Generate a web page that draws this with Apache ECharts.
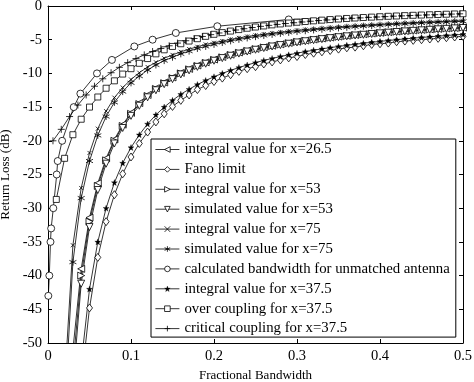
<!DOCTYPE html>
<html><head><meta charset="utf-8">
<script src="https://cdn.jsdelivr.net/npm/echarts@6/dist/echarts.min.js"></script>
<style>html,body{margin:0;padding:0;background:#fff}#c{width:474px;height:382px}</style>
</head><body><div id="c"></div>
<script>
// Fractional bandwidth grid (x) used by most curves
const bw = [0.01,0.02,0.03,0.04,0.05,0.06,0.07,0.08,0.09,0.10,0.11,0.12,0.13,0.14,0.15,0.16,0.17,0.18,0.19,0.20,0.21,0.22,0.23,0.24,0.25,0.26,0.27,0.28,0.29,0.30,0.31,0.32,0.33,0.34,0.35,0.36,0.37,0.38,0.39,0.40,0.41,0.42,0.43,0.44,0.45,0.46,0.47,0.48,0.49,0.50];
// Return loss (dB) series, aligned with bw (null = not plotted)
const int265Rl = [null,null,-51.0,-39.0,-31.4,-26.3,-22.6,-19.8,-17.6,-15.85,-14.4,-13.2,-12.2,-11.35,-10.6,-9.92,-9.33,-8.82,-8.36,-7.94,-7.56,-7.22,-6.9,-6.62,-6.36,-6.11,-5.89,-5.68,-5.48,-5.3,-5.13,-4.97,-4.82,-4.68,-4.54,-4.42,-4.3,-4.19,-4.08,-3.98,-3.88,-3.79,-3.71,-3.62,-3.55,-3.47,-3.4,-3.33,-3.27,-3.21];
const fanoRl = [null,null,null,-56.0,-44.8,-37.3,-32.0,-28.0,-24.9,-22.4,-20.4,-18.7,-17.2,-16.0,-14.9,-14.0,-13.2,-12.4,-11.8,-11.2,-10.7,-10.2,-9.7,-9.3,-9.0,-8.6,-8.3,-8.0,-7.7,-7.5,-7.2,-7.0,-6.8,-6.6,-6.4,-6.2,-6.1,-5.9,-5.7,-5.6,-5.5,-5.3,-5.2,-5.1,-5.0,-4.9,-4.8,-4.7,-4.6,-4.5];
const int53Rl = [null,null,-53.5,-40.0,-32.0,-26.7,-22.9,-20.0,-17.8,-16.0,-14.55,-13.35,-12.3,-11.45,-10.7,-10.0,-9.4,-8.9,-8.45,-8.0,-7.62,-7.27,-6.95,-6.67,-6.4,-6.15,-5.93,-5.72,-5.52,-5.33,-5.16,-5.0,-4.85,-4.7,-4.57,-4.44,-4.32,-4.21,-4.1,-4.0,-3.9,-3.81,-3.72,-3.64,-3.56,-3.48,-3.4,-3.33,-3.27,-3.2];
const sim53Rl = [null,null,-56.0,-41.2,-32.8,-27.3,-23.4,-20.4,-18.1,-16.3,-14.8,-13.55,-12.5,-11.6,-10.85,-10.15,-9.55,-9.03,-8.56,-8.12,-7.73,-7.38,-7.06,-6.76,-6.49,-6.24,-6.01,-5.8,-5.6,-5.41,-5.23,-5.07,-4.92,-4.77,-4.63,-4.5,-4.38,-4.27,-4.16,-4.06,-3.96,-3.86,-3.77,-3.69,-3.61,-3.53,-3.46,-3.39,-3.32,-3.26];
const int75Rl = [null,-56.0,-35.5,-27.0,-21.8,-18.2,-15.6,-13.6,-12.1,-10.9,-9.9,-9.05,-8.35,-7.75,-7.25,-6.8,-6.4,-6.05,-5.7,-5.45,-5.2,-4.95,-4.73,-4.53,-4.35,-4.18,-4.03,-3.88,-3.75,-3.62,-3.5,-3.4,-3.3,-3.2,-3.1,-3.02,-2.94,-2.86,-2.79,-2.72,-2.65,-2.59,-2.53,-2.47,-2.42,-2.37,-2.32,-2.27,-2.22,-2.18];
const sim75Rl = [null,-60.0,-38.0,-28.5,-23.0,-19.2,-16.4,-14.3,-12.7,-11.4,-10.4,-9.5,-8.75,-8.1,-7.6,-7.1,-6.7,-6.3,-6.0,-5.7,-5.42,-5.17,-4.95,-4.74,-4.55,-4.37,-4.21,-4.06,-3.92,-3.79,-3.67,-3.55,-3.45,-3.35,-3.25,-3.16,-3.07,-2.99,-2.92,-2.84,-2.77,-2.71,-2.65,-2.59,-2.53,-2.48,-2.42,-2.37,-2.32,-2.28];
const int375Rl = [null,null,null,-53.0,-42.0,-35.0,-30.0,-26.2,-23.3,-21.0,-19.1,-17.5,-16.15,-15.0,-14.0,-13.1,-12.35,-11.65,-11.05,-10.5,-10.0,-9.55,-9.13,-8.75,-8.4,-8.08,-7.78,-7.5,-7.24,-7.0,-6.77,-6.56,-6.36,-6.18,-6.0,-5.83,-5.68,-5.53,-5.38,-5.25,-5.12,-5.0,-4.88,-4.77,-4.67,-4.57,-4.47,-4.38,-4.29,-4.2];
const overRl = [-28.7,-22.6,-19.1,-16.8,-15.0,-13.5,-12.2,-11.1,-10.1,-9.3,-8.5,-7.8,-7.1,-6.5,-6.0,-5.6,-5.2,-4.85,-4.5,-4.2,-3.95,-3.72,-3.5,-3.3,-3.12,-2.96,-2.8,-2.66,-2.53,-2.41,-2.3,-2.2,-2.1,-2.01,-1.93,-1.85,-1.78,-1.71,-1.65,-1.59,-1.53,-1.48,-1.43,-1.38,-1.34,-1.3,-1.26,-1.22,-1.18,-1.15];
// critical coupling has its own x grid
const ccBw = [0.006,0.016,0.026,0.036,0.046,0.056,0.066,0.076,0.086,0.096,0.106,0.116,0.126,0.136,0.146,0.156,0.166,0.176,0.186,0.196,0.206,0.216,0.226,0.236,0.246,0.256,0.266,0.276,0.286,0.296,0.306,0.316,0.326,0.336,0.346,0.356,0.366,0.376,0.386,0.396,0.406,0.416,0.426,0.436,0.446,0.456,0.466,0.476,0.486,0.496];
const critRl = [-20.0,-18.3,-16.4,-14.7,-13.2,-11.9,-10.8,-9.9,-9.1,-8.4,-7.8,-7.25,-6.75,-6.3,-5.9,-5.5,-5.15,-4.82,-4.52,-4.25,-4.0,-3.77,-3.56,-3.37,-3.19,-3.02,-2.87,-2.73,-2.6,-2.48,-2.37,-2.26,-2.16,-2.07,-1.98,-1.9,-1.83,-1.76,-1.69,-1.63,-1.57,-1.51,-1.46,-1.41,-1.37,-1.32,-1.28,-1.24,-1.2,-1.16];
// unmatched antenna (sampled at return-loss levels)
const ubBw = [0.0004,0.0016,0.0030,0.0038,0.0064,0.0105,0.0117,0.017,0.031,0.039,0.059,0.077,0.104,0.126,0.154,0.204,0.29,0.58];
const ubRl = [-43,-40,-35,-33,-30,-25,-23,-20,-15,-13,-10,-8,-6,-5,-4,-3,-2,-1];

const names = ['integral value for x=26.5','Fano limit','integral value for x=53','simulated value for x=53','integral value for x=75','simulated value for x=75','calculated bandwidth for unmatched antenna','integral value for x=37.5','over coupling for x=37.5','critical coupling for x=37.5'];
const xTicks = [0, 0.5, 0.1];
const yTicks = [-50, 0, 5];

const FONT = '"Liberation Serif","Times New Roman",serif';
function pairs(xs, ys){ return xs.map((x,i)=> ys[i]==null ? null : [x, ys[i]]).filter(d=>d); }
const hollow = {color:'#fff', borderColor:'#000', borderWidth:0.8};
const strokeOnly = {color:'#000', borderColor:'#000', borderWidth:0.8};
const filled = {color:'#000', borderColor:'#000', borderWidth:0.3};
const PLUS = 'path://M0,5H10M5,0V10';
const CROSS = 'path://M0,0L10,10M0,10L10,0';
const AST = 'path://M5,0V10M0.67,2.5L9.33,7.5M0.67,7.5L9.33,2.5';
const STAR = 'path://M5,0L6.2,3.5L10,3.6L7,5.9L8.1,9.5L5,7.4L1.9,9.5L3,5.9L0,3.6L3.8,3.5Z';

const styles = [
  {sym:'triangle', size:7, it:hollow, rot:90},
  {sym:'diamond', size:[6,8], it:hollow, rot:0},
  {sym:'triangle', size:7, it:hollow, rot:-90},
  {sym:'triangle', size:7, it:hollow, rot:180},
  {sym:CROSS, size:4, it:strokeOnly, rot:0},
  {sym:AST, size:7, it:strokeOnly, rot:0},
  {sym:'circle', size:7, it:hollow, rot:0},
  {sym:STAR, size:6, it:filled, rot:0},
  {sym:'rect', size:6, it:hollow, rot:0},
  {sym:PLUS, size:7, it:strokeOnly, rot:0}
];
const dataSets = [
  [bw,int265Rl],[bw,fanoRl],[bw,int53Rl],[bw,sim53Rl],[bw,int75Rl],
  [bw,sim75Rl],[ubBw,ubRl],[bw,int375Rl],[bw,overRl],[ccBw,critRl]
];
const series = names.map((name,i)=>({
  name, type:'line', data: pairs(dataSets[i][0], dataSets[i][1]),
  symbol:styles[i].sym, symbolSize:styles[i].size, symbolRotate:styles[i].rot,
  showAllSymbol:true, clip:true, color:'#000',
  lineStyle:{color:'#000', width:0.8}, itemStyle:styles[i].it,
  emphasis:{disabled:true}, animation:false
}));
const legendData = names.map((name,i)=>({
  name, itemStyle:styles[i].it, lineStyle:{color:'#000', width:0.8}
}));

const axisLine = {show:true, onZero:false, lineStyle:{color:'#000', width:1}};
const tick = {show:true, inside:true, length:4, lineStyle:{color:'#000', width:1}};
const lbl = {color:'#000', fontFamily:FONT, fontSize:14.5};
const nameStyle = {color:'#000', fontFamily:FONT, fontSize:13};

const chart = echarts.init(document.getElementById('c'), null, {renderer:'canvas'});
chart.setOption({
  animation:false,
  backgroundColor:'#fff',
  grid:{left:48, right:11, top:6, bottom:39, containLabel:false, outerBoundsMode:'none'},
  xAxis:[
    {type:'value', position:'bottom', min:xTicks[0], max:xTicks[1], interval:xTicks[2], axisLine, axisTick:tick,
     axisLabel:{...lbl, margin:6}, splitLine:{show:false},
     name:'Fractional Bandwidth', nameLocation:'middle', nameGap:19, nameTextStyle:nameStyle},
    {type:'value', position:'top', min:xTicks[0], max:xTicks[1], interval:xTicks[2], axisLine, axisTick:tick,
     axisLabel:{show:false}, splitLine:{show:false}}
  ],
  yAxis:[
    {type:'value', position:'left', min:yTicks[0], max:yTicks[1], interval:yTicks[2], axisLine, axisTick:tick,
     axisLabel:{...lbl, margin:6}, splitLine:{show:false},
     name:'Return Loss (dB)', nameLocation:'middle', nameGap:35, nameTextStyle:nameStyle},
    {type:'value', position:'right', min:yTicks[0], max:yTicks[1], interval:yTicks[2], axisLine, axisTick:tick,
     axisLabel:{show:false}, splitLine:{show:false}}
  ],
  legend:{
    data:legendData, orient:'vertical', left:151, top:139,
    backgroundColor:'#fff', borderColor:'#000', borderWidth:1, borderRadius:0,
    padding:[3,6,1,4], itemWidth:24, itemHeight:7, itemGap:4.9,
    textStyle:{fontFamily:FONT, fontSize:14.8, color:'#000', lineHeight:14},
    selectedMode:false
  },
  series
});
</script>
</body></html>
